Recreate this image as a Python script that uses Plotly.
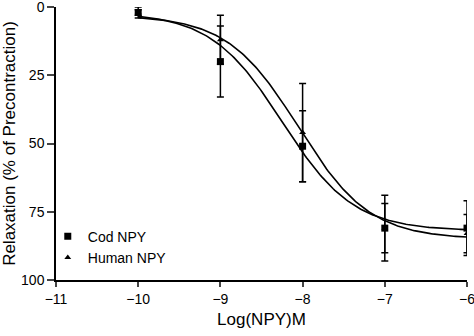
import numpy as np
import plotly.graph_objects as go

# Data
log_conc = [-10, -9, -8, -7, -6]
cod_mean = [2, 20, 51, 81, 81]
cod_err = [2, 13, 13, 12, 10]
human_mean = [2, 12, 46, 81, 83]
human_err = [1, 9, 18, 9, 7]

# Sigmoid fit parameters (top, bottom, logEC50, hill)
cod_fit = [2.0, 82.0, -8.25, 1.0]
human_fit = [3.0, 85.0, -8.05, 1.0]

xticks = [-11, -10, -9, -8, -7, -6]
yticks = [0, 25, 50, 75, 100]

def sigmoid(x, p):
    top, bottom, ec50, h = p
    return top + (bottom - top) / (1 + 10 ** ((ec50 - x) * h))

xc = np.linspace(-10, -6, 200)
FONT = "Liberation Sans, Arial, sans-serif"

fig = go.Figure()
fig.add_trace(go.Scatter(x=xc, y=sigmoid(xc, cod_fit), mode="lines",
                         line=dict(color="black", width=1.6), showlegend=False, hoverinfo="skip"))
fig.add_trace(go.Scatter(x=xc, y=sigmoid(xc, human_fit), mode="lines",
                         line=dict(color="black", width=1.6), showlegend=False, hoverinfo="skip"))
fig.add_trace(go.Scatter(x=log_conc, y=human_mean, mode="markers", name="Human NPY",
                         marker=dict(symbol="triangle-up", size=6, color="black"),
                         error_y=dict(type="data", array=human_err, color="black", thickness=1.5, width=3.5)))
fig.add_trace(go.Scatter(x=log_conc, y=cod_mean, mode="markers", name="Cod NPY",
                         marker=dict(symbol="square", size=7, color="black"),
                         error_y=dict(type="data", array=cod_err, color="black", thickness=1.5, width=3.5)))

fig.update_layout(
    width=474, height=336,
    margin=dict(l=56, r=7, t=7, b=56),
    paper_bgcolor="white", plot_bgcolor="white",
    font=dict(family=FONT, size=14, color="black"),
    legend=dict(x=-0.02, y=0.217, xanchor="left", yanchor="top", traceorder="reversed",
                bgcolor="rgba(0,0,0,0)", font=dict(size=14), itemwidth=30,
                tracegroupgap=0),
    xaxis=dict(range=[-11, -6], tickvals=xticks, ticks="outside", ticklen=5, tickwidth=1.5,
               showline=True, linecolor="black", linewidth=1.5, showgrid=False, zeroline=False,
               ticklabeloverflow="allow", automargin=False,
               title=dict(text="Log(NPY)M", standoff=8), tickfont=dict(size=14)),
    yaxis=dict(range=[100, 0], tickvals=yticks, ticks="outside", ticklen=7, tickwidth=1.5,
               showline=True, linecolor="black", linewidth=1.5, showgrid=False, zeroline=False,
               ticklabeloverflow="allow", automargin=False,
               title=dict(text="Relaxation (% of Precontraction)", standoff=6), tickfont=dict(size=14)),
)
fig.write_html("out.html")
